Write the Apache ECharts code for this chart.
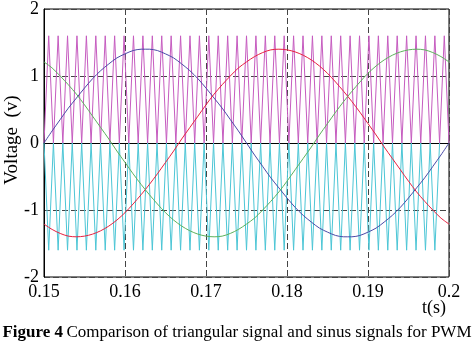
<!DOCTYPE html>
<html>
<head>
<meta charset="utf-8">
<script src="https://cdn.jsdelivr.net/npm/echarts@6/dist/echarts.min.js"></script>
<style>
html,body{margin:0;padding:0;background:#fff;}
#c{width:474px;height:342px;}
</style>
</head>
<body>
<div id="c"></div>
<script>
// ---- data ----
var timeTicks = [0.15, 0.16, 0.17, 0.18, 0.19, 0.2];
var voltTicks = [-2, -1, 0, 1, 2];
// sine samples every 0.001 s from 0.15 to 0.20
var sineTimes = [0.150,0.151,0.152,0.153,0.154,0.155,0.156,0.157,0.158,0.159,0.160,0.161,0.162,0.163,0.164,0.165,0.166,0.167,0.168,0.169,0.170,0.171,0.172,0.173,0.174,0.175,0.176,0.177,0.178,0.179,0.180,0.181,0.182,0.183,0.184,0.185,0.186,0.187,0.188,0.189,0.190,0.191,0.192,0.193,0.194,0.195,0.196,0.197,0.198,0.199,0.200];
var sineBlue  = [0,0.18,0.35,0.52,0.67,0.82,0.96,1.08,1.18,1.27,1.33,1.38,1.40,1.40,1.38,1.33,1.27,1.18,1.08,0.96,0.82,0.67,0.52,0.35,0.18,0,-0.18,-0.35,-0.52,-0.67,-0.82,-0.96,-1.08,-1.18,-1.27,-1.33,-1.38,-1.40,-1.40,-1.38,-1.33,-1.27,-1.18,-1.08,-0.96,-0.82,-0.67,-0.52,-0.35,-0.18,0];
var sineRed   = [-1.21,-1.29,-1.35,-1.39,-1.40,-1.39,-1.36,-1.31,-1.24,-1.15,-1.04,-0.91,-0.77,-0.62,-0.46,-0.29,-0.12,0.06,0.23,0.40,0.57,0.73,0.87,1.00,1.12,1.21,1.29,1.35,1.39,1.40,1.39,1.36,1.31,1.24,1.15,1.04,0.91,0.77,0.62,0.46,0.29,0.12,-0.06,-0.23,-0.40,-0.57,-0.73,-0.87,-1.00,-1.12,-1.21];
var sineGreen = [1.21,1.12,1.00,0.87,0.73,0.57,0.40,0.23,0.06,-0.12,-0.29,-0.46,-0.62,-0.77,-0.91,-1.04,-1.15,-1.24,-1.31,-1.36,-1.39,-1.40,-1.39,-1.35,-1.29,-1.21,-1.12,-1.00,-0.87,-0.73,-0.57,-0.40,-0.23,-0.06,0.12,0.29,0.46,0.62,0.77,0.91,1.04,1.15,1.24,1.31,1.36,1.39,1.40,1.39,1.35,1.29,1.21];
// triangular carrier vertices (equally spaced half-periods across 0.15..0.20)
var carrierUpper = [0,1.6,0,1.6,0,1.6,0,1.6,0,1.6,0,1.6,0,1.6,0,1.6,0,1.6,0,1.6,0,1.6,0,1.6,0,1.6,0,1.6,0,1.6,0,1.6,0,1.6,0,1.6,0,1.6,0,1.6,0,1.6,0,1.6,0,1.6,0,1.6,0,1.6,0,1.6,0,1.6,0,1.6,0,1.6,0,1.6,0,1.6,0,1.6,0,1.6,0,1.6,0,1.6,0,1.6,0,1.6,0,1.6,0,1.6,0,1.6,0,1.6,0,1.6,0,1.6,0];
var carrierLower = [0,-1.6,0,-1.6,0,-1.6,0,-1.6,0,-1.6,0,-1.6,0,-1.6,0,-1.6,0,-1.6,0,-1.6,0,-1.6,0,-1.6,0,-1.6,0,-1.6,0,-1.6,0,-1.6,0,-1.6,0,-1.6,0,-1.6,0,-1.6,0,-1.6,0,-1.6,0,-1.6,0,-1.6,0,-1.6,0,-1.6,0,-1.6,0,-1.6,0,-1.6,0,-1.6,0,-1.6,0,-1.6,0,-1.6,0,-1.6,0,-1.6,0,-1.6,0,-1.6,0,-1.6,0,-1.6,0,-1.6,0,-1.6,0,-1.6,0];
var carrierSteps = carrierUpper.map(function(_, i){ return String(i); });

function pairs(xs, ys){ return xs.map(function(x,i){ return [x, ys[i]]; }); }

var serif = '"Liberation Serif","Times New Roman",serif';
var chart = echarts.init(document.getElementById('c'), null, {renderer:'canvas'});
var dash = {color:'#444', width:1, type:[6,3]};
chart.setOption({
  animation:false,
  backgroundColor:'#fff',
  grid:{left:44, right:25, top:7, bottom:65, show:true, borderColor:'#000', borderWidth:1, backgroundColor:'transparent'},
  xAxis:[{
    type:'value', min:timeTicks[0], max:timeTicks[timeTicks.length-1], interval:0.01,
    axisLine:{show:true, lineStyle:{color:'#000'}}, axisTick:{show:false},
    axisLabel:{color:'#000', fontFamily:serif, fontSize:18, margin:6,
      formatter:function(v){ return String(Number(v.toFixed(2))); }},
    splitLine:{show:true, lineStyle:dash}
  },{
    type:'category', data:carrierSteps, boundaryGap:false, show:false
  }],
  yAxis:{
    type:'value', min:voltTicks[0], max:voltTicks[voltTicks.length-1], interval:1,
    axisLine:{show:true, lineStyle:{color:'#000'}}, axisTick:{show:false},
    axisLabel:{color:'#000', fontFamily:serif, fontSize:18, margin:5},
    splitLine:{show:true, lineStyle:dash}
  },
  graphic:[
    {type:'text', left:422, top:299, style:{text:'t(s)', fill:'#000', font:'18px '+serif}},
    {type:'text', x:12, y:140, rotation:Math.PI/2, style:{text:'Voltage  (v)', fill:'#000', font:'19px '+serif, textAlign:'center', textVerticalAlign:'middle'}},
    {type:'text', left:'center', top:324, style:{
      rich:{b:{fontWeight:'bold', fontFamily:serif, fontSize:17, fill:'#000'}, n:{fontFamily:serif, fontSize:17, fill:'#000'}},
      text:'{b|Figure 4} {n|Comparison of triangular signal and sinus signals for PWM}'}}
  ],
  series:[
    {type:'line', xAxisIndex:1, data:carrierUpper, symbol:'none', lineStyle:{color:'#c65cc0', width:1}, z:2},
    {type:'line', xAxisIndex:1, data:carrierLower, symbol:'none', lineStyle:{color:'#4cc6d6', width:1}, z:2},
    {type:'line', data:pairs(sineTimes, sineBlue), smooth:0.3, symbol:'none', lineStyle:{color:'#4a4aa8', width:1}, z:3},
    {type:'line', data:pairs(sineTimes, sineRed), smooth:0.3, symbol:'none', lineStyle:{color:'#e82040', width:1}, z:3},
    {type:'line', data:pairs(sineTimes, sineGreen), smooth:0.3, symbol:'none', lineStyle:{color:'#5cb25c', width:1}, z:3}
  ]
});
</script>
</body>
</html>
